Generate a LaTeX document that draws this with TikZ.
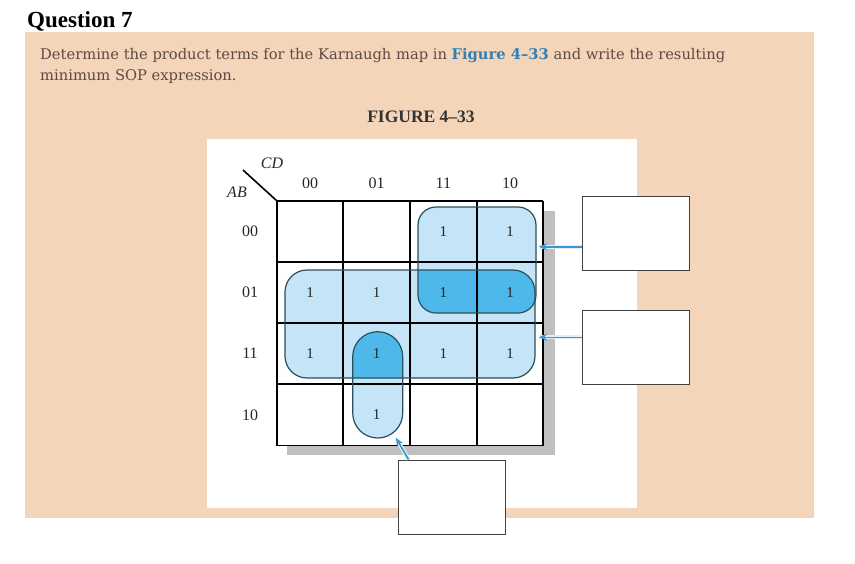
\documentclass[tikz,border=0pt]{standalone}
\usepackage{fontspec}
\setmainfont{Liberation Serif}
\newfontfamily\bodyfont{DejaVu Serif}
\usetikzlibrary{arrows.meta}
\definecolor{peach}{HTML}{F4D5B9}
\definecolor{bodytext}{HTML}{5C4B43}
\definecolor{figblue}{HTML}{2F80B6}
\definecolor{looplight}{HTML}{C3E5F7}
\definecolor{loopdark}{HTML}{4DB8E9}
\definecolor{loopline}{HTML}{2C4E5D}
\definecolor{arrowblue}{HTML}{3B96CE}
\begin{document}
\begin{tikzpicture}[x=1pt,y=-1pt,
  gridline/.style={line width=1.8pt,black},
  loopfill/.style={fill=looplight},
  loopedge/.style={draw=loopline,line width=1.2pt},
  one/.style={text=black!85,font=\fontsize{15}{17}\selectfont},
  maplabel/.style={text=black!85,font=\fontsize{16}{18}\selectfont},
  bodyline/.style={anchor=base west,inner sep=0pt,text=bodytext,font=\bodyfont\fontsize{14.7}{18}\selectfont},
  answerbox/.style={draw=black!75,line width=0.9pt,fill=white,minimum width=107pt,minimum height=74pt,inner sep=0pt},
  pointer/.style={arrowblue,line width=1.6pt,-{Stealth[length=8pt,width=7pt]},
    preaction={draw=arrowblue!15,line width=4pt,-}}]
\useasboundingbox (0,0) rectangle (855,563);
\fill[white] (0,0) rectangle (855,563);
% question heading and text
\node[anchor=base west,inner sep=0pt,font=\bfseries\fontsize{23}{26}\selectfont] (qhead) at (27,27) {Question 7};
\fill[peach] (25,32) rectangle (814,518);
\node[bodyline] (qline1) at (40,59.5)
  {Determine the product terms for the Karnaugh map in {\bfseries\color{figblue}Figure 4–33} and write the resulting};
\node[bodyline] (qline2) at (40,80.5) {minimum SOP expression.};
\node[inner sep=0pt,text=black!80,font=\bfseries\fontsize{17.5}{20}\selectfont] (figtitle) at (421,117) {FIGURE 4–33};
% figure panel and map shadow
\fill[white] (207,139) rectangle (637,508);
\fill[black!25] (287,211) rectangle (555,455);
\fill[white] (276.7,200.7) rectangle (543.3,445.5);
% groups
\fill[loopfill,rounded corners=22pt] (285,270) rectangle (535,378);
\fill[loopfill,rounded corners=18pt] (418,207) rectangle (536,313);
\fill[loopfill,rounded corners=25pt] (352.7,331.7) rectangle (402.7,438);
\begin{scope}
  \clip[rounded corners=22pt] (285,270) rectangle (535,378);
  \fill[loopdark,rounded corners=18pt] (418,207) rectangle (536,313);
  \fill[loopdark,rounded corners=25pt] (352.7,331.7) rectangle (402.7,438);
\end{scope}
% map grid
\foreach \i in {0,...,4} {
  \draw[gridline] (276.7+66.67*\i,200.7) -- (276.7+66.67*\i,445.5);
  \draw[gridline] (276.7,200.7+61.2*\i) -- (543.3,200.7+61.2*\i);
}
\draw[line width=1.6pt] (276.7,200.7) -- (243,170);
\node[maplabel,font=\itshape\fontsize{16}{18}\selectfont] (cdlab) at (272,163) {CD};
\node[maplabel,font=\itshape\fontsize{16}{18}\selectfont] (ablab) at (237,192) {AB};
\foreach \code [count=\j from 0] in {00,01,11,10} {
  \node[maplabel] (col\code) at (310+66.67*\j,183) {\code};
  \node[maplabel] (row\code) at (250,231.3+61.2*\j) {\code};
}
% cells holding 1
\foreach \r/\c in {0/2,0/3,1/0,1/1,1/2,1/3,2/0,2/1,2/2,2/3,3/1}
  \node[one] (one\r\c) at (310+66.67*\c,231.3+61.2*\r) {1};
\draw[loopedge,rounded corners=22pt] (285,270) rectangle (535,378);
\draw[loopedge,rounded corners=18pt] (418,207) rectangle (536,313);
\draw[loopedge,rounded corners=25pt] (352.7,331.7) rectangle (402.7,438);
% answer boxes
\node[answerbox] (termA) at (635.5,233) {};
\node[answerbox] (termB) at (635.5,347.5) {};
\node[answerbox] (termC) at (451.5,497) {};
\coordinate (tipA) at (539,246.7);
\coordinate (tipB) at (539,337.3);
\coordinate (tipC) at (396,438);
\draw[pointer] (tipA -| termA.west) -- (tipA);
\draw[pointer] (tipB -| termB.west) -- (tipB);
\draw[pointer] ([xshift=11pt]termC.north west) -- (tipC);
\end{tikzpicture}
\end{document}
